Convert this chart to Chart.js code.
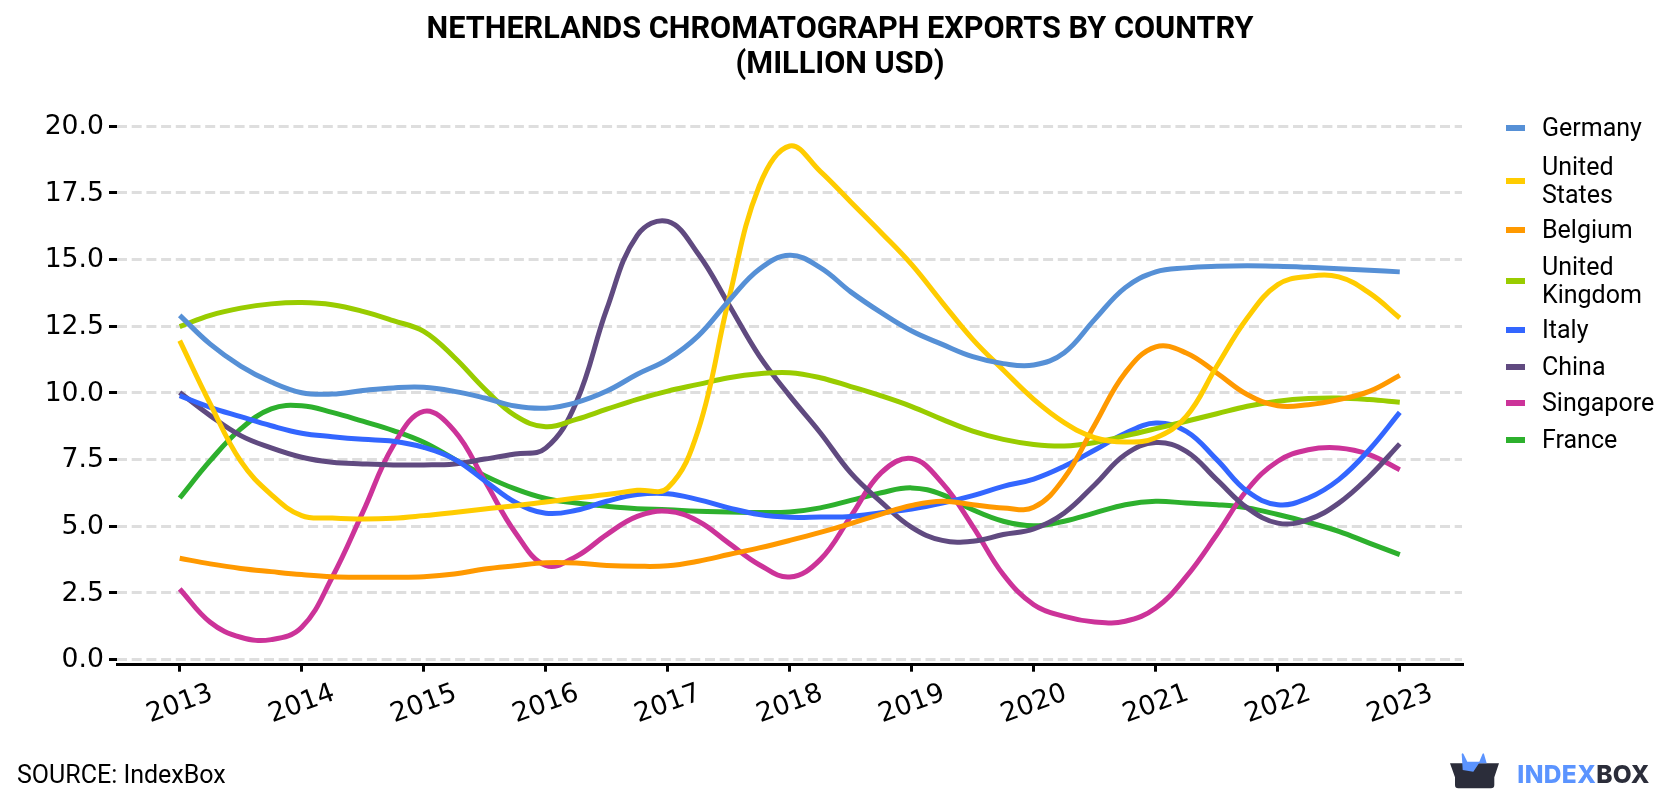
<!DOCTYPE html>
<html lang="en">
<head>
<meta charset="utf-8">
<title>Netherlands Chromatograph Exports by Country</title>
<script src="https://cdn.jsdelivr.net/npm/chart.js@4"></script>
<style>
  html, body { margin: 0; padding: 0; background: #fff; }
  #pagina { position: relative; width: 1680px; height: 800px; overflow: hidden; font-family: Roboto, sans-serif; color: #000; }
  #grafico { position: absolute; left: 0; top: 0; }
  #titulo { position: absolute; left: 0; top: 10px; width: 1680px; text-align: center; font-weight: 700; font-size: 30.67px; line-height: 35px; }
  #fonte { position: absolute; left: 17px; top: 761px; font-size: 25px; line-height: 28px; }
  #legenda { position: absolute; left: 0; top: 0; }
  .item { position: absolute; left: 1506px; }
  .traco { position: absolute; left: 0; width: 19px; height: 6px; }
  .nome { position: absolute; left: 36px; font-size: 25px; line-height: 28px; white-space: nowrap; }
  #logo { position: absolute; left: 1440px; top: 745px; }
</style>
</head>
<body>
<div id="pagina">
  <canvas id="grafico" width="1680" height="800"></canvas>
  <div id="titulo">NETHERLANDS CHROMATOGRAPH EXPORTS BY COUNTRY<br>(MILLION USD)</div>
  <div id="legenda"></div>
  <div id="fonte">SOURCE: IndexBox</div>
  <svg id="logo" width="230" height="50" viewBox="0 0 230 50">
    <path d="M10 18.3 L59 18.3 L54.3 32.3 L54.3 40 Q54.3 43.3 51 43.3 L18.3 43.3 Q15 43.3 15 40 L15 32.3 Z" fill="#2b2d3a"/>
    <path d="M21.7 9 Q22.5 7.5 23.5 9 L27.3 16.7 L39.3 16.7 L42.5 9 Q43.3 7.5 44 9 L46.7 18.3 L39 18.3 L33.3 26.7 L22.7 25 Z" fill="#5b94ff"/>
    <text x="77.3" y="37.7" font-family="Inter, Roboto, sans-serif" font-weight="800" font-size="24.5" textLength="132" lengthAdjust="spacing"><tspan fill="#5b94ff">INDEX</tspan><tspan fill="#2b2d3a">BOX</tspan></text>
  </svg>
</div>
<script>
// Eixo X: trimestres de 2013 a 2023, rótulos só nos anos inteiros
const trimestres = [
  2013, 2013.25, 2013.5, 2013.75, 2014, 2014.25, 2014.5, 2014.75,
  2015, 2015.25, 2015.5, 2015.75, 2016, 2016.25, 2016.5, 2016.75,
  2017, 2017.25, 2017.5, 2017.75, 2018, 2018.25, 2018.5, 2018.75,
  2019, 2019.25, 2019.5, 2019.75, 2020, 2020.25, 2020.5, 2020.75,
  2021, 2021.25, 2021.5, 2021.75, 2022, 2022.25, 2022.5, 2022.75, 2023
];

// Valores de cada país (milhões de USD)
const germany = [
  12.9, 11.82, 11.0, 10.4, 10.0, 9.95, 10.08, 10.18,
  10.2, 10.05, 9.8, 9.5, 9.42, 9.63, 10.06, 10.69,
  11.25, 12.13, 13.44, 14.63, 15.15, 14.69, 13.78, 13.0,
  12.31, 11.81, 11.35, 11.09, 11.04, 11.5, 12.75, 13.94,
  14.53, 14.68, 14.74, 14.76, 14.74, 14.7, 14.65, 14.59, 14.53
];
const unitedStates = [
  11.95, 9.58, 7.43, 6.18, 5.39, 5.3, 5.26, 5.29,
  5.39, 5.51, 5.64, 5.76, 5.9, 6.05, 6.18, 6.34,
  6.43, 8.6, 13.5, 17.75, 19.25, 18.3, 17.15, 16.0,
  14.8, 13.38, 12.0, 10.85, 9.75, 8.88, 8.31, 8.15,
  8.31, 9.11, 10.99, 12.8, 14.05, 14.36, 14.34, 13.74, 12.8
];
const belgium = [
  3.79, 3.58, 3.41, 3.29, 3.18, 3.1, 3.08, 3.08,
  3.1, 3.2, 3.39, 3.51, 3.62, 3.61, 3.52, 3.49,
  3.51, 3.68, 3.93, 4.18, 4.46, 4.76, 5.09, 5.45,
  5.77, 5.93, 5.8, 5.68, 5.7, 6.8, 8.8, 10.75,
  11.72, 11.49, 10.74, 9.93, 9.51, 9.55, 9.74, 10.05, 10.65
];
const unitedKingdom = [
  12.48, 12.9, 13.17, 13.33, 13.38, 13.3, 13.05, 12.7,
  12.3, 11.33, 10.14, 9.14, 8.72, 9.0, 9.38, 9.75,
  10.06, 10.31, 10.56, 10.71, 10.75, 10.56, 10.23, 9.88,
  9.48, 9.0, 8.56, 8.25, 8.06, 8.0, 8.13, 8.38,
  8.65, 8.93, 9.21, 9.49, 9.68, 9.78, 9.8, 9.74, 9.64
];
const italy = [
  9.89, 9.45, 9.1, 8.76, 8.48, 8.35, 8.25, 8.18,
  7.95, 7.51, 6.7, 5.89, 5.48, 5.59, 5.93, 6.18,
  6.21, 5.99, 5.68, 5.43, 5.33, 5.34, 5.36, 5.5,
  5.64, 5.86, 6.14, 6.49, 6.76, 7.24, 7.85, 8.48,
  8.86, 8.55, 7.49, 6.3, 5.8, 6.05, 6.74, 7.86, 9.26
];
const china = [
  10.01, 9.14, 8.39, 7.93, 7.58, 7.39, 7.33, 7.29,
  7.29, 7.33, 7.51, 7.7, 7.92, 9.63, 13.13, 15.9,
  16.42, 15.2, 13.31, 11.38, 9.88, 8.5, 6.99, 5.9,
  4.95, 4.46, 4.43, 4.68, 4.89, 5.49, 6.55, 7.68,
  8.13, 7.8, 6.74, 5.68, 5.11, 5.24, 5.86, 6.86, 8.08
];
const singapore = [
  2.64, 1.39, 0.83, 0.74, 1.2, 3.08, 5.51, 8.01,
  9.3, 8.58, 6.7, 4.76, 3.52, 3.86, 4.68, 5.36,
  5.55, 5.18, 4.36, 3.55, 3.09, 3.74, 5.36, 7.0,
  7.53, 6.61, 4.99, 3.18, 2.05, 1.61, 1.4, 1.43,
  1.93, 3.1, 4.68, 6.36, 7.43, 7.86, 7.93, 7.68, 7.11
];
const france = [
  6.05, 7.45, 8.64, 9.39, 9.51, 9.26, 8.93, 8.58,
  8.14, 7.51, 6.89, 6.39, 6.03, 5.86, 5.74, 5.65,
  5.61, 5.55, 5.53, 5.51, 5.53, 5.68, 5.96, 6.25,
  6.43, 6.18, 5.61, 5.18, 5.01, 5.18, 5.49, 5.8,
  5.93, 5.86, 5.8, 5.68, 5.43, 5.14, 4.8, 4.36, 3.93
];

// Nome (uma linha por elemento), cor e dados de cada série, na ordem da legenda
const nomes = [['Germany'], ['United', 'States'], ['Belgium'], ['United', 'Kingdom'], ['Italy'], ['China'], ['Singapore'], ['France']];
const cores = ['#5690d6', '#ffcc00', '#ff9900', '#99cc00', '#3366ff', '#604a80', '#cc3399', '#2db02d'];
const valores = [germany, unitedStates, belgium, unitedKingdom, italy, china, singapore, france];
const centrosLegenda = [128, 181, 230, 281, 330, 367, 403, 440];

const datasets = nomes.map((nome, i) => ({
  label: nome.join(' '),
  data: trimestres.map((ano, j) => ({ x: ano, y: valores[i][j] })),
  borderColor: cores[i],
  borderWidth: 5,
  borderCapStyle: 'butt',
  borderJoinStyle: 'round',
  pointRadius: 0,
  fill: false,
  tension: 0.4
}));

new Chart(document.getElementById('grafico'), {
  type: 'line',
  data: { datasets: datasets },
  options: {
    responsive: false,
    animation: false,
    layout: { padding: { left: 0, right: 218, top: 126, bottom: 0 } },
    plugins: { legend: { display: false }, title: { display: false }, tooltip: { enabled: false } },
    scales: {
      x: {
        type: 'linear',
        min: 2012.486,
        max: 2023.51,
        afterFit: (escala) => { escala.height = 135.3; },
        border: { display: true, color: '#000', width: 3 },
        grid: { drawOnChartArea: false, color: '#000', lineWidth: 3, tickLength: 7 },
        ticks: {
          stepSize: 1,
          includeBounds: false,
          minRotation: 20,
          maxRotation: 20,
          labelOffset: 32,
          padding: 6,
          color: '#000',
          font: { family: 'DejaVu Sans', size: 26.67 },
          callback: (valor) => String(valor)
        }
      },
      y: {
        min: -0.2,
        max: 20,
        afterFit: (escala) => { escala.width = 117; },
        border: { display: false, dash: [10, 4.7] },
        grid: {
          color: '#dedede',
          lineWidth: 3,
          tickColor: '#000',
          tickBorderDash: [],
          tickWidth: 3,
          tickLength: 8
        },
        ticks: {
          stepSize: 2.5,
          includeBounds: false,
          padding: 5,
          labelOffset: 1,
          color: '#000',
          font: { family: 'DejaVu Sans', size: 26.67 },
          callback: (valor) => valor.toFixed(1)
        }
      }
    }
  }
});

// Legenda em HTML, para poder quebrar os nomes longos em duas linhas
const legenda = document.getElementById('legenda');
nomes.forEach((nome, i) => {
  const item = document.createElement('div');
  item.className = 'item';
  item.style.top = centrosLegenda[i] + 'px';
  const traco = document.createElement('div');
  traco.className = 'traco';
  traco.style.top = '-3px';
  traco.style.background = cores[i];
  const texto = document.createElement('div');
  texto.className = 'nome';
  texto.style.top = (-14 * nome.length) + 'px';
  texto.innerHTML = nome.join('<br>');
  item.appendChild(traco);
  item.appendChild(texto);
  legenda.appendChild(item);
});
</script>
</body>
</html>
